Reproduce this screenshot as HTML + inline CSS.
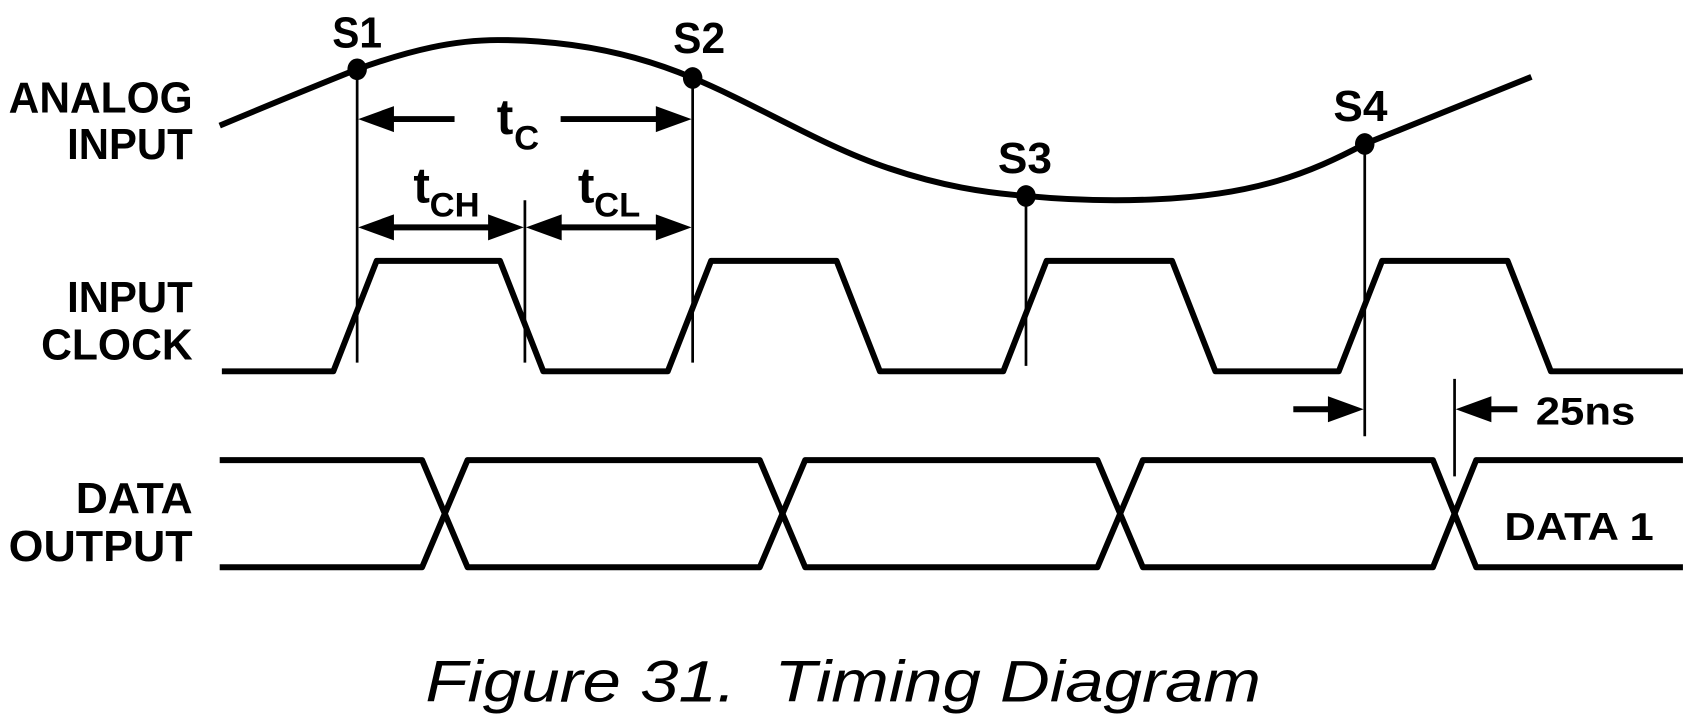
<!DOCTYPE html>
<html><head><style>
html,body{margin:0;padding:0;background:#fff;}
svg{display:block;}
text{font-family:"Liberation Sans Narrow","Liberation Sans",sans-serif;font-weight:bold;fill:#000;}
.cap{font-family:"Liberation Sans",sans-serif;font-weight:normal;font-style:italic;}
</style></head><body>
<svg width="1697" height="721" viewBox="0 0 1568 666" preserveAspectRatio="none" xmlns="http://www.w3.org/2000/svg">
<path d="M203,116 Q275,86 330,64 C380,46 420,37 460,37 C540,37 600,55 640,72 C700,97 760,135 820,155 C870,172 910,178 948,181 C990,185 1030,186 1070,184 C1160,180 1210,160 1261,133 L1415,71" fill="none" stroke="#000" stroke-width="5.5"/>
<g fill="#000">
<ellipse cx="330" cy="64" rx="9" ry="10"/><ellipse cx="640" cy="72" rx="9" ry="10"/><ellipse cx="948" cy="181" rx="9" ry="10"/><ellipse cx="1261" cy="133" rx="9" ry="10"/>
</g>
<g stroke="#000" stroke-width="2.5">
<line x1="330" y1="64" x2="330" y2="335"/>
<line x1="640" y1="72" x2="640" y2="335"/>
<line x1="485" y1="185" x2="485" y2="335"/>
<line x1="948" y1="181" x2="948" y2="338"/>
<line x1="1261" y1="133" x2="1261" y2="403"/>
<line x1="1344" y1="350" x2="1344" y2="440"/>
</g>
<g stroke="#000" stroke-width="5.5">
<line x1="350" y1="110" x2="420" y2="110"/>
<line x1="518" y1="110" x2="620" y2="110"/>
<line x1="350" y1="210" x2="465" y2="210"/>
<line x1="505" y1="210" x2="620" y2="210"/>
<line x1="1195" y1="378" x2="1240" y2="378"/>
<line x1="1365" y1="378" x2="1402" y2="378"/>
</g>
<g fill="#000">
<polygon points="331,110 364,98 364,122"/>
<polygon points="639,110 606,98 606,122"/>
<polygon points="331,210 364,198 364,222"/>
<polygon points="484,210 451,198 451,222"/>
<polygon points="486,210 519,198 519,222"/>
<polygon points="639,210 606,198 606,222"/>
<polygon points="1260,378 1227,366 1227,390"/>
<polygon points="1345,378 1378,366 1378,390"/>
</g>
<path d="M205,343 L308,343 L348,241 L462,241 L502,343 L617,343 L657,241 L773,241 L813,343 L927,343 L967,241 L1083,241 L1123,343 L1237,343 L1277,241 L1393,241 L1433,343 L1555,343" fill="none" stroke="#000" stroke-width="5.5" stroke-linejoin="round"/>
<path d="M203,425 L390,425 L432,524 L702,524 L744,425 L1014,425 L1056,524 L1324,524 L1364,425 L1555,425" fill="none" stroke="#000" stroke-width="5.5" stroke-linejoin="round"/>
<path d="M203,524 L390,524 L432,425 L702,425 L744,524 L1014,524 L1056,425 L1324,425 L1364,524 L1555,524" fill="none" stroke="#000" stroke-width="5.5" stroke-linejoin="round"/>
<g font-size="40">
<text x="8" y="104" textLength="170" lengthAdjust="spacingAndGlyphs">ANALOG</text>
<text x="62" y="147" textLength="116" lengthAdjust="spacingAndGlyphs">INPUT</text>
<text x="62" y="288" textLength="116" lengthAdjust="spacingAndGlyphs">INPUT</text>
<text x="38" y="332" textLength="140" lengthAdjust="spacingAndGlyphs">CLOCK</text>
<text x="70" y="474" textLength="108" lengthAdjust="spacingAndGlyphs">DATA</text>
<text x="8" y="518" textLength="170" lengthAdjust="spacingAndGlyphs">OUTPUT</text>
<text x="307" y="44" textLength="46" lengthAdjust="spacingAndGlyphs">S1</text>
<text x="622" y="49" textLength="48" lengthAdjust="spacingAndGlyphs">S2</text>
<text x="922" y="160" textLength="50" lengthAdjust="spacingAndGlyphs">S3</text>
<text x="1232" y="112" textLength="50" lengthAdjust="spacingAndGlyphs">S4</text>
<text x="459" y="124" font-size="46">t</text>
<text x="475" y="138" font-size="32">C</text>
<text x="382" y="187" font-size="46">t</text>
<text x="397" y="200" font-size="32">CH</text>
<text x="534" y="187" font-size="46">t</text>
<text x="549" y="200" font-size="32">CL</text>
<text x="1419" y="392" font-family="Liberation Sans" font-size="36" textLength="92" lengthAdjust="spacingAndGlyphs">25ns</text>
<text x="1390" y="499" font-family="Liberation Sans" font-size="36" textLength="138" lengthAdjust="spacingAndGlyphs">DATA 1</text>
</g>
<text class="cap" x="393" y="648" font-size="54" textLength="772" lengthAdjust="spacingAndGlyphs" xml:space="preserve">Figure 31.  Timing Diagram</text>
</svg>
</body></html>
